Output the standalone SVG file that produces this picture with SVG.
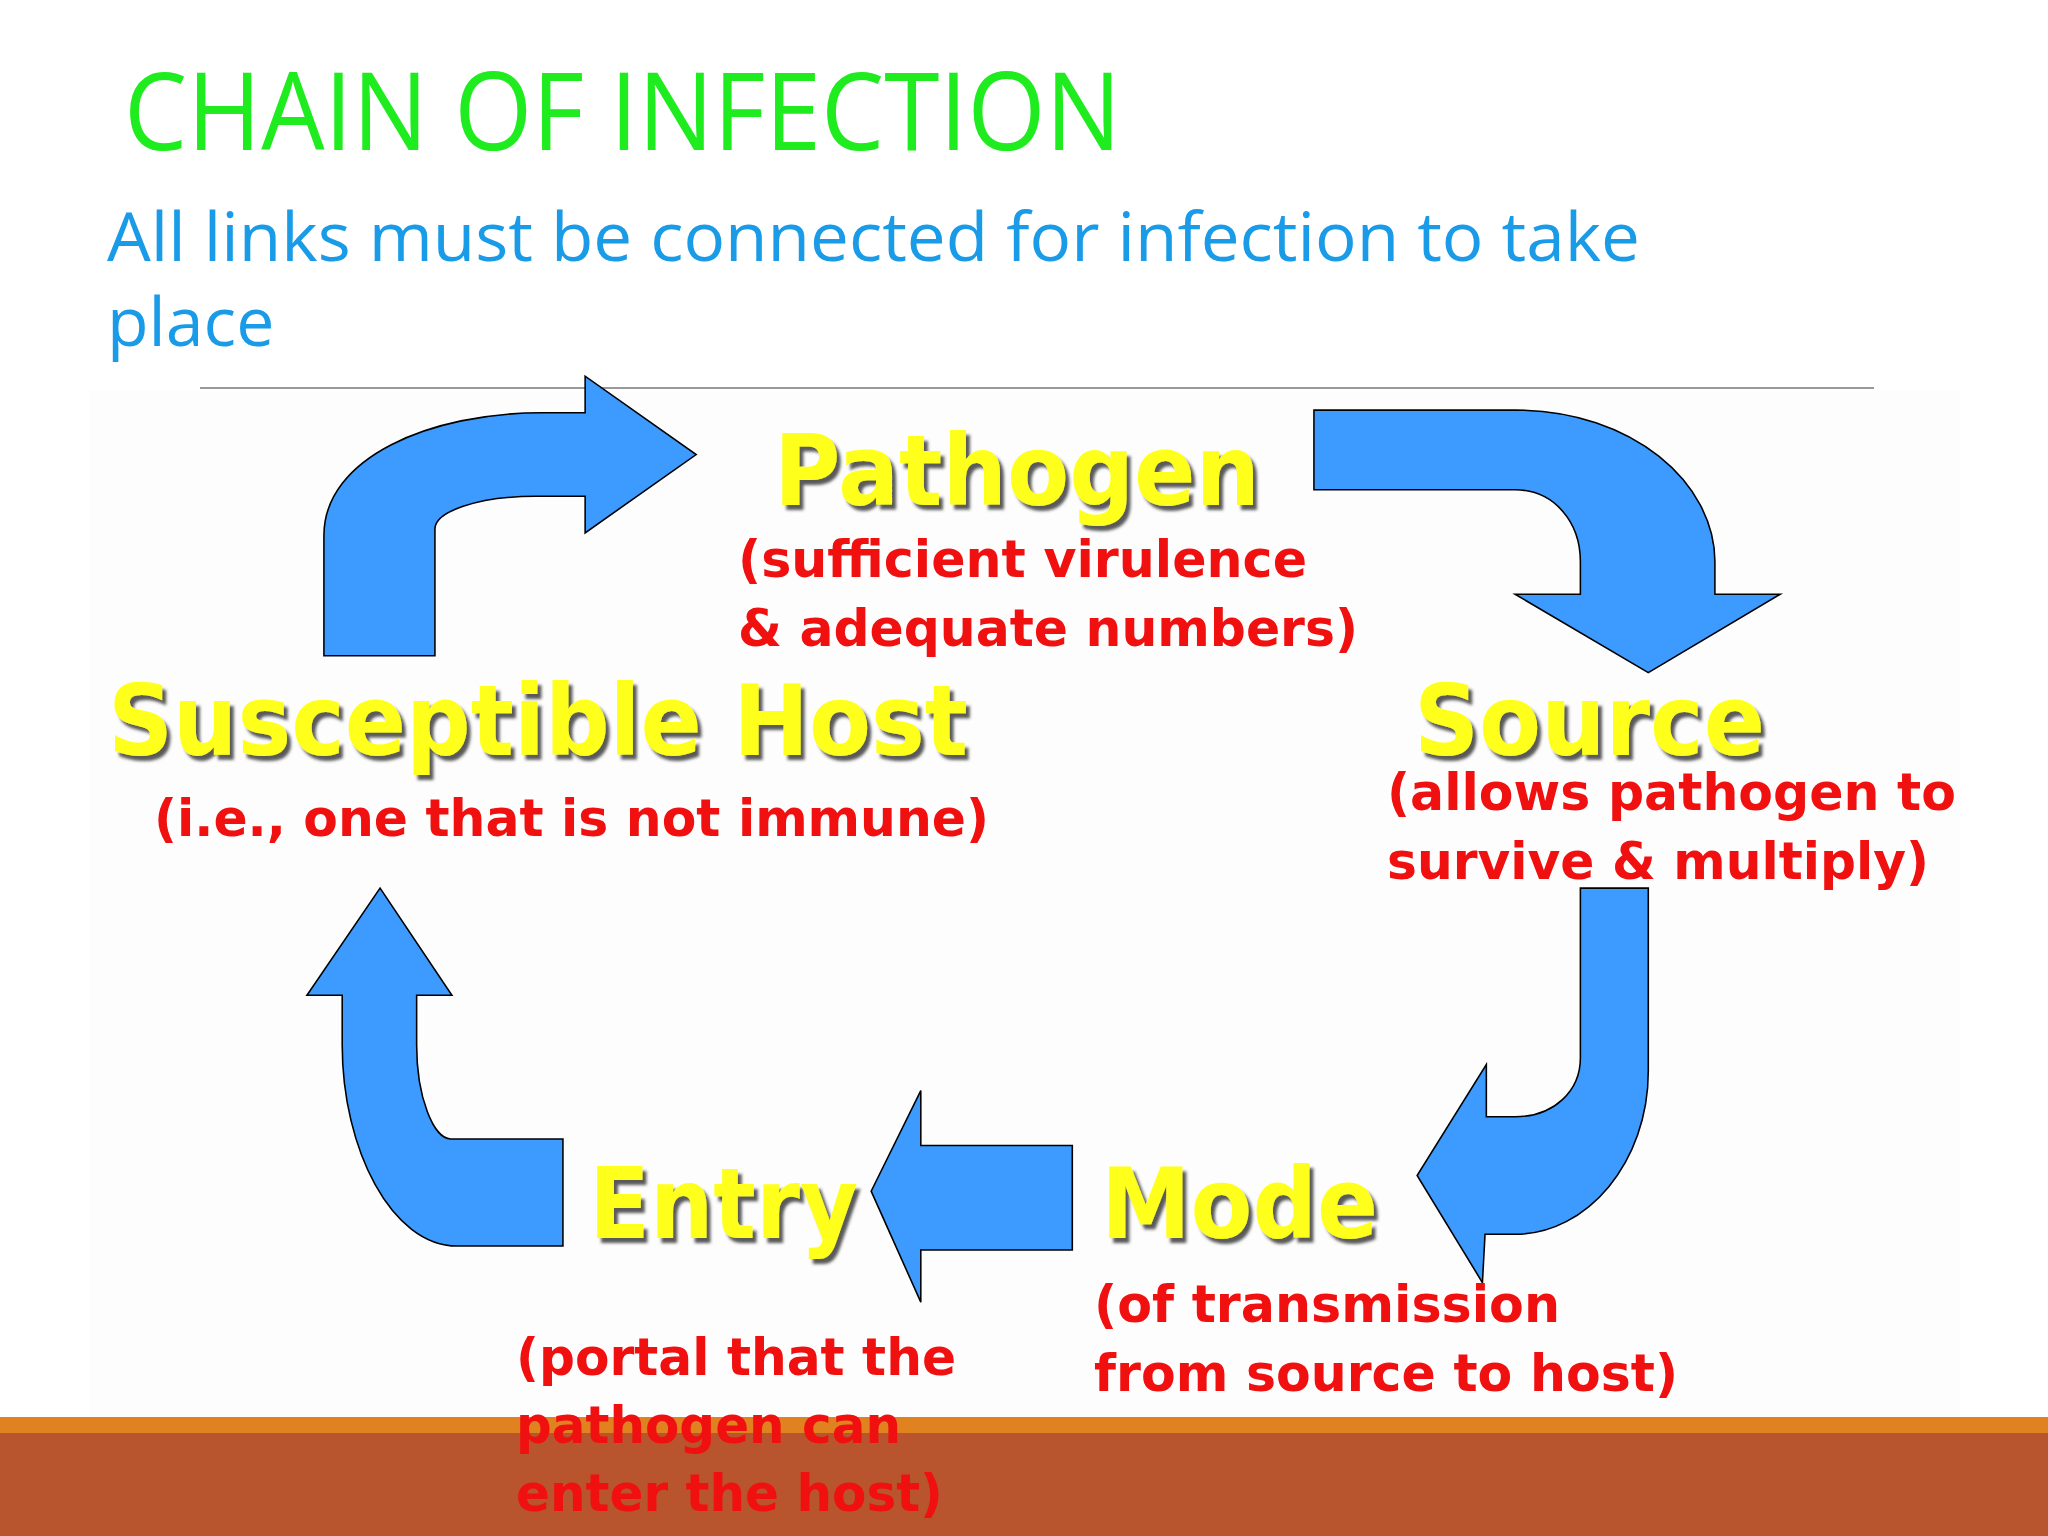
<svg xmlns="http://www.w3.org/2000/svg" width="2048" height="1536" viewBox="0 0 2048 1536">
<defs>
<filter id="sh" x="-10%" y="-10%" width="120%" height="130%"><feDropShadow dx="4" dy="5" stdDeviation="1.5" flood-color="#333" flood-opacity="0.8"/></filter>
<style>
.arr{fill:#3d9bff;stroke:#000;stroke-width:1.2}
.big{font-family:"DejaVu Sans",Verdana,sans-serif;font-weight:bold;font-size:98px;fill:#ffff1a;filter:url(#sh)}
.sub{font-family:"DejaVu Sans",Verdana,sans-serif;font-weight:bold;font-size:52px;fill:#f01010}
</style>
</defs>
<rect width="2048" height="1536" fill="#fff"/>
<rect x="90" y="390" width="1870" height="1030" fill="#fdfdfd"/>
<rect x="0" y="1417" width="2048" height="16" fill="#e0821f"/>
<rect x="0" y="1433" width="2048" height="103" fill="#b9552e"/>
<text x="124" y="150" font-family="Open Sans,sans-serif" font-size="108" fill="#1eec1e" textLength="997" lengthAdjust="spacingAndGlyphs">CHAIN OF INFECTION</text>
<text font-family="Open Sans,sans-serif" font-size="68" fill="#1a9be8"><tspan x="107" y="261" textLength="1533" lengthAdjust="spacingAndGlyphs">All links must be connected for infection to take</tspan><tspan x="107" y="346">place</tspan></text>
<line x1="200" y1="388" x2="1874" y2="388" stroke="#999" stroke-width="2"/>
<g id="connectors" transform="scale(1.3061)">
<path class="arr" d="M248,502 L248,410 C248,350 330,316 415,316 L448,316 L448,288 L533,348 L448,408 L448,380 L410,380 C365,380 333,392 333,405 L333,502 Z"/>
<path class="arr" d="M1006,314 L1160,314 C1250,314 1313,370 1313,430 L1313,455 L1363,455 L1262,515 L1160,455 L1210,455 L1210,430 C1210,400 1190,375 1160,375 L1006,375 Z"/>
<path class="arr" d="M1210,680 L1262,680 L1262,820 C1262,890 1215,945 1160,945 L1137,945 L1135,982 L1085,900 L1138,815 L1138,855 L1160,855 C1190,855 1210,835 1210,810 Z"/>
<path class="arr" d="M821,877 L821,957 L705,957 L705,997 L667,912 L705,835 L705,877 Z"/>
<path class="arr" d="M431,872 L431,954 L350,954 C300,954 262,880 262,800 L262,762 L235,762 L291,680 L346,762 L319,762 L319,800 C319,840 332,872 345,872 Z"/>
</g>
<g id="pathogen">
<text class="big" x="774" y="505" textLength="486" lengthAdjust="spacingAndGlyphs">Pathogen</text>
<text class="sub"><tspan x="738" y="577" textLength="569" lengthAdjust="spacingAndGlyphs">(sufficient virulence</tspan><tspan x="738" y="646" textLength="620" lengthAdjust="spacingAndGlyphs">&amp; adequate numbers)</tspan></text>
</g>
<g id="host">
<text class="big" x="108" y="755" textLength="860" lengthAdjust="spacingAndGlyphs">Susceptible Host</text>
<text class="sub" x="154" y="836" textLength="835" lengthAdjust="spacingAndGlyphs">(i.e., one that is not immune)</text>
</g>
<g id="source">
<text class="big" x="1414" y="755" textLength="351" lengthAdjust="spacingAndGlyphs">Source</text>
<text class="sub"><tspan x="1387" y="810" textLength="569" lengthAdjust="spacingAndGlyphs">(allows pathogen to</tspan><tspan x="1387" y="879" textLength="542" lengthAdjust="spacingAndGlyphs">survive &amp; multiply)</tspan></text>
</g>
<g id="mode">
<text class="big" x="1101" y="1238" textLength="277" lengthAdjust="spacingAndGlyphs">Mode</text>
<text class="sub"><tspan x="1094" y="1322" textLength="466" lengthAdjust="spacingAndGlyphs">(of transmission</tspan><tspan x="1094" y="1391" textLength="584" lengthAdjust="spacingAndGlyphs">from source to host)</tspan></text>
</g>
<g id="entry">
<text class="big" x="589" y="1238" textLength="269" lengthAdjust="spacingAndGlyphs">Entry</text>
<text class="sub"><tspan x="516" y="1375" textLength="440" lengthAdjust="spacingAndGlyphs">(portal that the</tspan><tspan x="516" y="1443" textLength="385" lengthAdjust="spacingAndGlyphs">pathogen can</tspan><tspan x="516" y="1511" textLength="427" lengthAdjust="spacingAndGlyphs">enter the host)</tspan></text>
</g>
</svg>
